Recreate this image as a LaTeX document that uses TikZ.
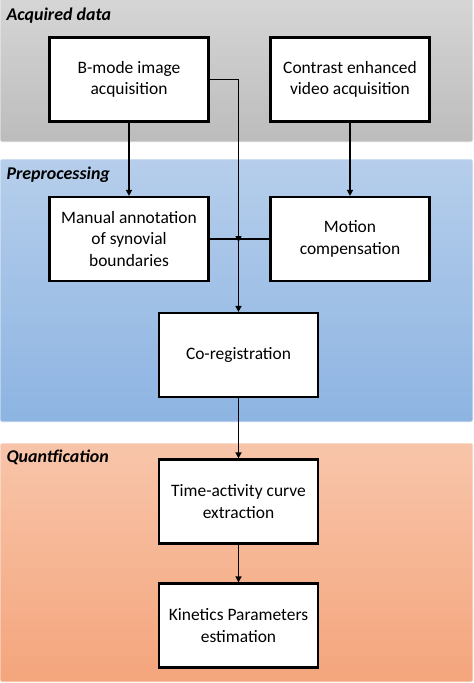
\documentclass[tikz,border=0pt]{standalone}
\usepackage{fontspec}
\setmainfont{Carlito}
\usetikzlibrary{arrows.meta}
\definecolor{gTop}{RGB}{214,214,214}
\definecolor{gBot}{RGB}{188,188,188}
\definecolor{bTop}{RGB}{182,206,235}
\definecolor{bBot}{RGB}{141,180,226}
\definecolor{oTop}{RGB}{248,197,170}
\definecolor{oBot}{RGB}{244,165,124}

\begin{document}
\begin{tikzpicture}[x=1bp, y=-1bp, font=\fontsize{17.5}{21.5}\selectfont,
    stage/.style={draw=white, line width=0.6pt, rounded corners=2pt},
    box/.style={draw=black, line width=2.2pt, fill=white, minimum width=159bp,
      minimum height=84bp, align=center, inner sep=2pt},
    title/.style={anchor=west, font=\fontsize{18}{19}\selectfont\bfseries\itshape},
    link/.style={line width=1.9pt, -{Triangle[length=6pt, width=6pt]}},
    wire/.style={line width=1.9pt}]

  \useasboundingbox (0,0) rectangle (474,683);

  % Coloured bands
  \shade[stage, top color=gTop, bottom color=gBot] (0,-3) rectangle (473,142);
  \shade[stage, top color=bTop, bottom color=bBot] (0,159) rectangle (473,422);
  \shade[stage, top color=oTop, bottom color=oBot] (0,443) rectangle (473,682);

  % Band titles
  \node[title] (tAcq) at (3,16) {Acquired data};
  \node[title] (tPre) at (3,175) {Preprocessing};
  \node[title] (tQua) at (3,457) {Quantfication};

  % Boxes
  \node[box] (bmode)    at (129,79.5)  {B-mode image\\acquisition};
  \node[box] (contrast) at (350,79.5)  {Contrast enhanced\\video acquisition};
  \node[box] (manual)   at (129,239)   {Manual annotation\\of synovial\\boundaries};
  \node[box] (motion)   at (350,239)   {Motion\\compensation};
  \node[box] (coreg)    at (238.5,355) {Co-registration};
  \node[box] (tac)      at (238.5,501.5) {Time-activity curve\\extraction};
  \node[box] (kinetics) at (238.5,625.5) {Kinetics Parameters\\estimation};

  % Junction points
  \coordinate (bend) at (coreg.north |- bmode.east);
  \coordinate (join) at (coreg.north |- manual.east);

  % Connectors
  \draw[link] (bmode) -- (manual);
  \draw[link] (contrast) -- (motion);
  \draw[wire] (bmode.east) -- (bend) -- (join);
  \draw[link, shorten >=-1pt] (bend) -- ([yshift=-2pt]join);
  \draw[wire] (manual.east) -- (motion.west);
  \draw[link] (join) -- (coreg);
  \draw[link] (coreg) -- (tac);
  \draw[link] (tac) -- (kinetics);

\end{tikzpicture}
\end{document}
